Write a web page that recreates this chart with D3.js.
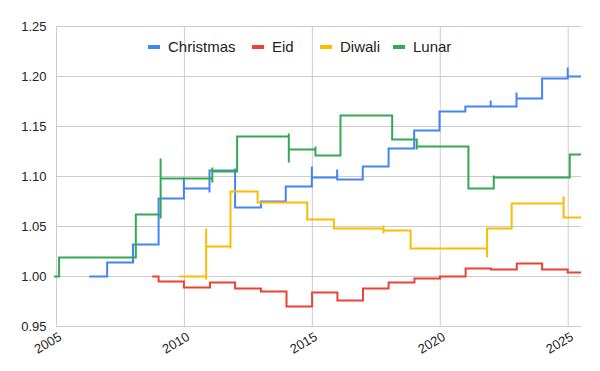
<!DOCTYPE html>
<html>
<head>
<meta charset="utf-8">
<script src="https://cdn.jsdelivr.net/npm/d3@7"></script>
<style>
  body { margin: 0; background: #fff; }
  text { font-family: Arial, "Liberation Sans", sans-serif; fill: #222; }
</style>
</head>
<body>
<div id="chart"></div>
<script>
// DATA: [decimal year, value] points of each step series
// (a repeated year = the spike that sits on a step)
const christmas = [
  [2006.28, 1.000], [2006.98, 1.014], [2007.99, 1.032], [2008.99, 1.078],
  [2009.98, 1.077], [2009.98, 1.099], [2009.98, 1.088],
  [2010.98, 1.084], [2010.98, 1.107], [2010.98, 1.106],
  [2011.98, 1.108], [2011.98, 1.068], [2011.98, 1.069],
  [2012.99, 1.075], [2013.96, 1.090],
  [2014.98, 1.110], [2014.98, 1.099],
  [2015.97, 1.107], [2015.97, 1.097],
  [2016.97, 1.110], [2017.98, 1.128], [2018.98, 1.146], [2019.97, 1.165],
  [2020.98, 1.170],
  [2021.97, 1.176], [2021.97, 1.170],
  [2022.98, 1.184], [2022.98, 1.178],
  [2023.98, 1.198],
  [2024.98, 1.209], [2024.98, 1.200],
  [2025.5, 1.200]
];
const eid = [
  [2008.74, 1.000], [2008.99, 0.995], [2009.98, 0.989], [2011.00, 0.994],
  [2011.98, 0.988], [2012.99, 0.985], [2013.99, 0.970], [2014.99, 0.984],
  [2015.98, 0.976], [2016.98, 0.988], [2017.98, 0.994], [2018.99, 0.998],
  [2019.99, 1.000], [2020.99, 1.008], [2021.98, 1.007], [2022.99, 1.013],
  [2023.98, 1.007], [2024.98, 1.004], [2025.5, 1.004]
];
const diwali = [
  [2009.79, 1.000],
  [2010.85, 0.997], [2010.85, 1.048], [2010.85, 1.030],
  [2011.80, 1.028], [2011.80, 1.085],
  [2012.86, 1.074], [2014.80, 1.057], [2015.84, 1.048],
  [2017.78, 1.051], [2017.78, 1.043], [2017.78, 1.046],
  [2018.84, 1.028],
  [2021.83, 1.019], [2021.83, 1.048],
  [2022.79, 1.047], [2022.79, 1.073],
  [2024.82, 1.080], [2024.82, 1.059],
  [2025.5, 1.059]
];
const lunar = [
  [2004.9, 1.000], [2005.1, 1.019], [2008.1, 1.062],
  [2009.07, 1.058], [2009.07, 1.118], [2009.07, 1.098],
  [2011.09, 1.094], [2011.09, 1.109], [2011.09, 1.105],
  [2012.06, 1.140],
  [2014.08, 1.143], [2014.08, 1.114], [2014.08, 1.127],
  [2015.12, 1.130], [2015.12, 1.121],
  [2016.10, 1.161], [2018.12, 1.137],
  [2019.08, 1.127], [2019.08, 1.130],
  [2021.10, 1.088],
  [2022.09, 1.101], [2022.09, 1.099],
  [2025.06, 1.122], [2025.5, 1.122]
];

const seriesNames = ["Christmas", "Eid", "Diwali", "Lunar"];
const seriesColors = ["#4285f4", "#ea4335", "#fbbc04", "#34a853"];
const seriesData = [christmas, eid, diwali, lunar];

const xTicks = [2005, 2010, 2015, 2020, 2025];
const yTicks = [0.95, 1.00, 1.05, 1.10, 1.15, 1.20, 1.25];

// SETUP
const W = 600, H = 371;
const margin = { top: 26, right: 19, bottom: 45, left: 56.5 };

const svg = d3.select("#chart")
  .append("svg")
    .attr("width", W)
    .attr("height", H);

// SCALES
const x = d3.scaleLinear()
  .domain([2005, 2025.5])
  .range([margin.left, W - margin.right]);

const y = d3.scaleLinear()
  .domain([0.95, 1.25])
  .range([H - margin.bottom + 0.5, margin.top + 0.5]);

// GRIDLINES
svg.append("g")
  .selectAll("line")
  .data(yTicks)
  .join("line")
    .attr("x1", x(2005))
    .attr("x2", x(2025.5))
    .attr("y1", d => y(d))
    .attr("y2", d => y(d))
    .attr("stroke", "#cccccc");

svg.append("g")
  .selectAll("line")
  .data(xTicks)
  .join("line")
    .attr("x1", d => x(d))
    .attr("x2", d => x(d))
    .attr("y1", y(0.95))
    .attr("y2", y(1.25))
    .attr("stroke", "#cccccc");

// AXIS LABELS
svg.append("g")
  .selectAll("text")
  .data(yTicks)
  .join("text")
    .attr("x", margin.left - 10)
    .attr("y", d => y(d))
    .attr("dy", "0.35em")
    .attr("text-anchor", "end")
    .style("font-size", "13px")
    .text(d => d3.format(".2f")(d));

svg.append("g")
  .selectAll("text")
  .data(xTicks)
  .join("text")
    .attr("text-anchor", "end")
    .attr("transform", d => `translate(${x(d) + 6},${y(0.95) + 13}) rotate(-30)`)
    .style("font-size", "13px")
    .text(d => d);

// LINES
const line = d3.line()
  .x(d => x(d[0]))
  .y(d => y(d[1]))
  .curve(d3.curveStepAfter);

svg.append("g")
  .selectAll("path")
  .data(seriesData)
  .join("path")
    .attr("d", line)
    .attr("fill", "none")
    .attr("stroke", (d, i) => seriesColors[i])
    .attr("stroke-width", 2);

// LEGEND
const legendX = [148, 252, 320, 393];
const legend = svg.append("g")
  .selectAll("g")
  .data(seriesNames)
  .join("g")
    .attr("transform", (d, i) => `translate(${legendX[i]},47)`);

legend.append("rect")
  .attr("x", 0)
  .attr("y", -2)
  .attr("width", 12)
  .attr("height", 4)
  .attr("fill", (d, i) => seriesColors[i]);

legend.append("text")
  .attr("x", 20)
  .attr("dy", "0.35em")
  .style("font-size", "15px")
  .text(d => d);
</script>
</body>
</html>
